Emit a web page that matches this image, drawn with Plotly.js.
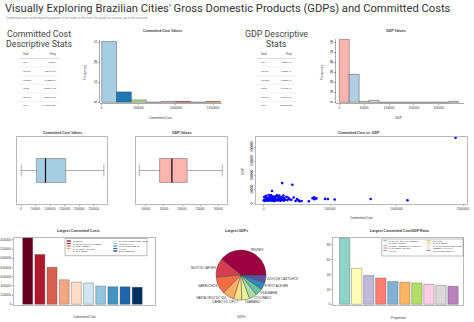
<!DOCTYPE html>
<html>
<head>
<meta charset="utf-8">
<script src="https://cdn.plot.ly/plotly-3.0.1.min.js"></script>
<style>
  html, body { margin: 0; padding: 0; background: #fff; }
  #chart { width: 474px; height: 322px; }
</style>
</head>
<body>
<div id="chart"></div>
<script>
// ---- summary statistics ----
const statNames = ['Min', '1st Qu.', 'Median', 'Mean', '3rd Qu.', 'Max'];
const costStats = [772.13, 52977.16, 84228.16, 129564.42, 153890.15, 1443790.82];
const gdpStats = [8236.43, 13821.49, 17208.74, 19908.74, 21429.17, 233896.22];
const costWhiskers = [772.13, 285000];
const gdpWhiskers = [8236.43, 31100];

// ---- histogram bins (start of each bin) and counts ----
const costBinSize = 200000;
const costBinStarts = [0, 200000, 400000, 600000, 800000, 1000000, 1200000, 1400000];
const costBinCounts = [76, 13, 3, 0, 1, 1, 0, 1];
const costBinColors = ['#A6CEE3', '#1F78B4', '#B2DF8A', '#33A02C', '#FB9A99', '#E31A1C', '#FDBF6F', '#FF7F00'];

const gdpBinSize = 20000;
const gdpBinStarts = [0, 20000, 40000, 60000, 80000, 100000, 120000, 140000, 160000, 180000, 200000, 220000];
const gdpBinCounts = [63, 28, 1, 2, 0, 0, 0, 0, 0, 0, 0, 1];
const gdpBinColors = ['#FBB4AE', '#B3CDE3', '#CCEBC5', '#DECBE4', '#FED9A6', '#FFFFCC', '#E5D8BD', '#FDDAEC', '#F2F2F2', '#FBB4AE', '#B3CDE3', '#CCEBC5'];

// ---- committed cost and GDP per city ----
const cityCost = [
  1443790, 1082000, 805000, 534000, 483000, 462000, 397000, 382000, 380000, 368000,
  340000, 285000, 270000, 240000, 139000, 216000,
  772, 3500, 6200, 8900, 11500, 14800, 17300, 19900, 22600, 25100, 27800, 30400,
  32900, 35300, 37700, 40100, 42300, 44600, 46800, 48700, 50200, 51400, 52300, 52900,
  54800, 56300, 57900, 59400, 61000, 62700, 64300, 65800, 67400, 69000, 70600, 72100,
  73600, 75200, 76700, 78100, 79500, 80800, 82000, 83000, 83700, 84100, 84228,
  87500, 91200, 95000, 98600, 102300, 105900, 109400, 113000, 116700, 120200, 123800,
  127400, 131000, 134500, 138000, 141600, 144900, 147800, 150300, 152200, 153400,
  154100, 155000, 162000, 171000, 178000, 186000, 194000,
  208000, 226000, 251000, 263000
];
const cityGdp = [
  233896, 12157, 16598, 15042, 16771, 17111, 18900, 15720, 22400, 19800,
  8786, 9596, 8824, 9375, 73000, 67000,
  12400, 23500, 9800, 24100, 14200, 21900, 11900, 28300, 16300, 13100, 20100, 10700,
  17600, 14900, 31100, 12600, 21200, 15300, 22800, 11400, 17900, 13600, 20700, 16100,
  14400, 29600, 12200, 20500, 15600, 45000, 10300, 16900, 13900, 25600, 12900, 23700,
  15100, 17300, 11100, 23300, 14600, 18100, 9300, 16700, 22100, 13300, 17200,
  15500, 26300, 12700, 30200, 14100, 22900, 11700, 17500, 28700, 13400, 20600,
  10900, 22600, 21600, 14700, 19600, 12300, 29100, 15900, 18500, 11600,
  20300, 16800, 14300, 24800, 12800, 20800, 15400,
  13700, 21800, 16200, 11800
];

// ---- largest committed costs ----
const topCostCities = ['TRIUNFO', 'SANTANA DO LIVRAMENTO', 'SANTO ANGELO', 'CACHOEIRA DO SUL', 'SAO GABRIEL',
  'SAO FRANCISCO DE ASSIS', 'URUGUAIANA', 'SAO LUIZ GONZAGA', 'ITAQUI', 'DOM PEDRITO'];
const topCostValues = [1443790, 1082000, 805000, 534000, 483000, 462000, 397000, 382000, 380000, 368000];
const topCostColors = ['#67001F', '#B2182B', '#D6604D', '#F4A582', '#FDDBC7', '#D1E5F0', '#92C5DE', '#4393C3', '#2166AC', '#053061'];

// ---- largest GDPs ----
const topGdpCities = ['TRIUNFO', 'MUITOS CAPOES', 'GARRUCHOS', 'SANTA CRUZ DO SUL', 'CAPAO DO CIPO',
  'SARANDI', 'COLORADO', 'VILA MARIA', 'PORTO ALEGRE', 'JULIO DE CASTILHOS'];
const topGdpValues = [233896, 73000, 67000, 45000, 31100, 30200, 29600, 29100, 28700, 28300];
const topGdpColors = ['#9E0142', '#D53E4F', '#F46D43', '#FDAE61', '#FEE08B', '#E6F598', '#ABDDA4', '#66C2A5', '#3288BD', '#5E4FA2'];

// ---- largest committed cost / GDP ratios ----
const topRatioCities = ['SANTANA DO LIVRAMENTO', 'SANTO ANGELO', 'SANTO ANTONIO DA PATRULHA', 'CACHOEIRA DO SUL', 'QUARAI',
  'PIRATINI', 'SAO GABRIEL', 'SAO FRANCISCO DE ASSIS', 'GENERAL CAMARA', 'SAO LUIZ GONZAGA'];
const topRatioValues = [89.0, 48.5, 38.7, 35.5, 30.6, 29.7, 28.8, 27.0, 25.6, 24.3];
const topRatioColors = ['#8DD3C7', '#FFFFB3', '#BEBADA', '#FB8072', '#80B1D3', '#FDB462', '#B3DE69', '#FCCDE5', '#D9D9D9', '#BC80BD'];

// ---- page geometry helpers (pixel -> paper) ----
const W = 474, H = 322;
const px = v => v / W;
const py = v => 1 - v / H;
const SANS = 'Liberation Sans, Arial, sans-serif';
const HEAD = 'Roboto, sans-serif';
const INK = '#333';

function txt(text, x, y, size, extra) {
  return Object.assign({
    text: text, x: px(x), y: py(y), xref: 'paper', yref: 'paper', showarrow: false,
    xanchor: 'center', yanchor: 'middle', borderpad: 0,
    font: { family: SANS, size: size, color: INK }
  }, extra || {});
}
function hline(x0, x1, y, color, width) {
  return { type: 'line', xref: 'paper', yref: 'paper', x0: px(x0), x1: px(x1), y0: py(y), y1: py(y),
    line: { color: color, width: width } };
}
function axis(extra) {
  return Object.assign({
    showgrid: false, zeroline: false, ticks: 'outside', ticklen: 1.5, tickwidth: 0.5, tickcolor: '#555',
    showline: true, linecolor: '#555', linewidth: 0.5, fixedrange: true, tickformat: 'd',
    tickfont: { family: SANS, size: 3.2, color: INK }
  }, extra);
}
const frame = { mirror: true, linecolor: '#888', linewidth: 0.6 };

const traces = [];
const annotations = [];
const shapes = [];

// ---- histograms ----
traces.push({
  type: 'bar', x: costBinStarts, y: costBinCounts, offset: 0, width: costBinSize,
  marker: { color: costBinColors, line: { color: '#333', width: 0.4 } },
  xaxis: 'x', yaxis: 'y', showlegend: false, hoverinfo: 'skip'
});
traces.push({
  type: 'bar', x: gdpBinStarts, y: gdpBinCounts, offset: 0, width: gdpBinSize,
  marker: { color: gdpBinColors, line: { color: '#333', width: 0.4 } },
  xaxis: 'x2', yaxis: 'y2', showlegend: false, hoverinfo: 'skip'
});

// ---- horizontal box plots from the summary statistics ----
function boxTrace(stats, whiskers, fill, xa, ya) {
  return {
    type: 'box', orientation: 'h', y: [0],
    q1: [stats[1]], median: [stats[2]], q3: [stats[4]],
    lowerfence: [whiskers[0]], upperfence: [whiskers[1]],
    width: 1, whiskerwidth: 0.5, boxpoints: false,
    fillcolor: fill, line: { color: '#777', width: 0.6 },
    xaxis: xa, yaxis: ya, showlegend: false, hoverinfo: 'skip'
  };
}
function medianTrace(stats, xa, ya) {
  return {
    type: 'scatter', mode: 'lines', x: [stats[2], stats[2]], y: [-0.5, 0.5],
    line: { color: '#111', width: 1.2 }, xaxis: xa, yaxis: ya, showlegend: false, hoverinfo: 'skip'
  };
}
traces.push(boxTrace(costStats, costWhiskers, '#A6CEE3', 'x3', 'y3'));
traces.push(medianTrace(costStats, 'x3', 'y3'));
traces.push(boxTrace(gdpStats, gdpWhiskers, '#FBB4AE', 'x4', 'y4'));
traces.push(medianTrace(gdpStats, 'x4', 'y4'));

// ---- scatter ----
traces.push({
  type: 'scatter', mode: 'markers', x: cityCost, y: cityGdp,
  marker: { color: '#0000FF', size: 2.6 },
  xaxis: 'x5', yaxis: 'y5', showlegend: false, hoverinfo: 'skip'
});

// ---- bottom bar charts and pie ----
traces.push({
  type: 'bar', x: topCostCities, y: topCostValues, width: 0.82,
  marker: { color: topCostColors, line: { color: '#333', width: 0.3 } },
  xaxis: 'x6', yaxis: 'y6', showlegend: false, hoverinfo: 'skip'
});
traces.push({
  type: 'bar', x: topRatioCities, y: topRatioValues, width: 0.86,
  marker: { color: topRatioColors, line: { color: '#333', width: 0.3 } },
  xaxis: 'x7', yaxis: 'y7', showlegend: false, hoverinfo: 'skip'
});
// first slice starts at 3 o'clock and slices run counterclockwise
const gdpTotal = topGdpValues.reduce((a, b) => a + b, 0);
const pieRotation = 90 - 360 * topGdpValues[0] / gdpTotal;
traces.push({
  type: 'pie', labels: topGdpCities, values: topGdpValues, sort: false,
  direction: 'counterclockwise', rotation: pieRotation,
  marker: { colors: topGdpColors, line: { color: '#333', width: 0.4 } },
  textinfo: 'label', textposition: 'outside',
  outsidetextfont: { family: SANS, size: 3, color: INK },
  domain: { x: [px(216), px(266)], y: [py(300), py(250)] },
  showlegend: false, hoverinfo: 'skip'
});

// ---- headings and descriptive-stat tables ----
const headFont = { family: HEAD, size: 8.8, color: '#444' };
annotations.push(txt('Committed Cost', 39, 34.2, 8.8, { font: headFont }));
annotations.push(txt('Descriptive Stats', 39, 43.5, 8.8, { font: headFont }));
annotations.push(txt('GDP Descriptive', 276.7, 34.2, 8.8, { font: headFont }));
annotations.push(txt('Stats', 276.7, 43.5, 8.8, { font: headFont }));

function statTable(values, left, right) {
  const rowY = [54.3, 62.8, 71.4, 80, 88.6, 97.2, 105.8];
  annotations.push(txt('Stat1', left, rowY[0], 2.6, { xanchor: 'left' }));
  annotations.push(txt('Freq', right, rowY[0], 2.6, { xanchor: 'right' }));
  shapes.push(hline(left - 3, right + 3, rowY[0] + 4.2, '#bbb', 0.5));
  for (let i = 0; i < statNames.length; i++) {
    annotations.push(txt(statNames[i], left, rowY[i + 1], 2.5, { xanchor: 'left' }));
    annotations.push(txt(values[i].toFixed(2), right, rowY[i + 1], 2.5, { xanchor: 'right' }));
    if (i < statNames.length - 1) shapes.push(hline(left - 3, right + 3, rowY[i + 1] + 4.3, '#e4e4e4', 0.5));
  }
}
statTable(costStats, 21.7, 56.7);
statTable(gdpStats, 259.7, 293.3);

// ---- chart titles ----
const bold = t => '<b>' + t + '</b>';
annotations.push(txt(bold('Committed Cost Values'), 162, 31, 3.5));
annotations.push(txt(bold('GDP Values'), 396, 31, 3.5));
annotations.push(txt(bold('Committed Cost Values'), 62, 132.5, 3.5));
annotations.push(txt(bold('GDP Values'), 181.7, 132.5, 3.5));
annotations.push(txt(bold('Committed Cost vs. GDP'), 359, 132.5, 3.5));
annotations.push(txt(bold('Largest Committed Costs'), 78, 231, 3.5));
annotations.push(txt(bold('Largest GDPs'), 236, 231, 3.5));
annotations.push(txt(bold('Largest Committed Cost/GDP Ratio'), 399, 231, 3.5));

// ---- axis titles ----
annotations.push(txt('Committed Cost', 160, 118.3, 3.2));
annotations.push(txt('Frequency', 85, 73, 3.2, { textangle: -90 }));
annotations.push(txt('GDP', 398.7, 117.7, 3.2));
annotations.push(txt('Frequency', 322, 73, 3.2, { textangle: -90 }));
annotations.push(txt('Committed Cost', 361, 217.5, 3.2));
annotations.push(txt('GDP', 243, 171, 3.2, { textangle: -90 }));
annotations.push(txt('Committed Cost', 84, 317, 3.2));
annotations.push(txt('GDPs', 241, 317, 3.2));
annotations.push(txt('Proportion', 398.7, 318, 3.2));

// ---- two-column legends for the bar charts ----
function legendBox(names, colors, box, swatchX, textX, rowY) {
  shapes.push({ type: 'rect', xref: 'paper', yref: 'paper', x0: px(box[0]), x1: px(box[1]), y0: py(box[3]), y1: py(box[2]),
    line: { color: '#555', width: 0.4 }, fillcolor: 'rgba(255,255,255,0.9)' });
  for (let i = 0; i < names.length; i++) {
    const col = i < 5 ? 0 : 1, row = i % 5;
    shapes.push({ type: 'rect', xref: 'paper', yref: 'paper',
      x0: px(swatchX[col]), x1: px(swatchX[col] + 4), y0: py(rowY[row] + 0.6), y1: py(rowY[row] - 0.6),
      line: { width: 0 }, fillcolor: colors[i] });
    annotations.push(txt(names[i], textX[col], rowY[row], 2.2, { xanchor: 'left' }));
  }
}
legendBox(topCostCities, topCostColors, [65, 147, 238.5, 255.7], [66.7, 113.3], [71.7, 118.3], [241, 243.5, 246, 248.5, 251]);
legendBox(topRatioCities, topRatioColors, [381.7, 463, 239, 256], [383.3, 426.7], [388.3, 431.7], [240.5, 243, 245.5, 248, 250.5]);

// subtitle line under the page title
annotations.push(txt('Committed costs and budgeted payments to be made in the future for goods or services yet to be received',
  5, 18.5, 3, { xanchor: 'left', font: { family: SANS, size: 3, color: '#888' } }));

const layout = {
  width: W, height: H, margin: { l: 0, r: 0, t: 0, b: 0 },
  paper_bgcolor: '#fff', plot_bgcolor: '#fff', bargap: 0,
  title: {
    text: "Visually Exploring Brazilian Cities' Gross Domestic Products (GDPs) and Committed Costs",
    x: px(5), xanchor: 'left', y: py(8.5), yanchor: 'middle',
    font: { family: HEAD, size: 11.2, color: '#333' }
  },
  // histograms
  xaxis: axis({ domain: [px(100), px(222)], anchor: 'y', range: [-23000, 1621000],
    tickvals: [0, 500000, 1000000, 1500000] }),
  yaxis: axis({ domain: [py(103), py(40)], anchor: 'x', range: [-0.9, 77.9],
    tickvals: [0, 25, 50, 75], tickangle: -90 }),
  xaxis2: axis({ domain: [px(336), px(464)], anchor: 'y2', range: [-6640, 250900],
    tickvals: [0, 50000, 100000, 150000, 200000] }),
  yaxis2: axis({ domain: [py(103), py(38.8)], anchor: 'x2', range: [-0.7, 63.5],
    tickvals: [0, 10, 20, 30, 40, 50, 60], tickangle: -90 }),
  // box plots
  xaxis3: axis(Object.assign({ domain: [px(17), px(107)], anchor: 'y3', range: [-13750, 295700],
    tickvals: [0, 50000, 100000, 150000, 200000, 250000] }, frame)),
  yaxis3: axis(Object.assign({ domain: [py(204), py(137)], anchor: 'x3', range: [-1.4, 1.4],
    showticklabels: false, ticks: '' }, frame)),
  xaxis4: axis(Object.assign({ domain: [px(136), px(227)], anchor: 'y4', range: [7328, 32397],
    tickvals: [10000, 15000, 20000, 25000, 30000] }, frame)),
  yaxis4: axis(Object.assign({ domain: [py(204), py(137)], anchor: 'x4', range: [-1.4, 1.4],
    showticklabels: false, ticks: '' }, frame)),
  // scatter
  xaxis5: axis(Object.assign({ domain: [px(256), px(467)], anchor: 'y5', range: [-57950, 1530100],
    tickvals: [0, 500000, 1000000, 1500000] }, frame)),
  yaxis5: axis(Object.assign({ domain: [py(204), py(137)], anchor: 'x5', range: [-1000, 236300],
    tickvals: [0, 50000, 100000, 150000, 200000], tickangle: -90 }, frame)),
  // bottom bar charts
  xaxis6: axis(Object.assign({ domain: [px(14), px(155)], anchor: 'y6', range: [-1.126, 10.46],
    showticklabels: false, ticks: '' }, frame)),
  yaxis6: axis(Object.assign({ domain: [py(305), py(237.5)], anchor: 'x6', range: [-15170, 1450000],
    tickvals: [0, 200000, 400000, 600000, 800000, 1000000, 1200000, 1400000] }, frame)),
  xaxis7: axis(Object.assign({ domain: [px(333), px(463)], anchor: 'y7', range: [-0.97, 9.83],
    showticklabels: false, ticks: '' }, frame)),
  yaxis7: axis(Object.assign({ domain: [py(305), py(237.7)], anchor: 'x7', range: [-0.94, 89.8],
    tickvals: [0, 20, 40, 60, 80] }, frame)),
  annotations: annotations,
  shapes: shapes
};

Plotly.newPlot('chart', traces, layout, { displayModeBar: false, staticPlot: true });
</script>
</body>
</html>
